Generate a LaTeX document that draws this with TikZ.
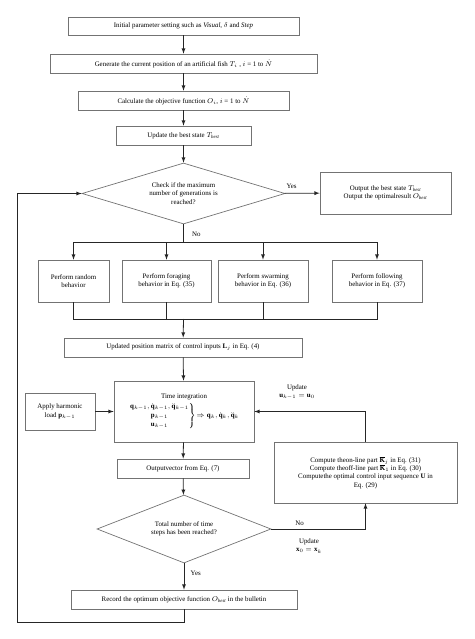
\documentclass[tikz,border=0pt]{standalone}
\usepackage{fontspec}
\usepackage{amsmath}
\setmainfont{Liberation Serif}
\usetikzlibrary{arrows, shapes.geometric}

\begin{document}
\begin{tikzpicture}[>=latex, x=1pt, y=-1pt,
  txt/.style={font=\fontsize{6.9pt}{8.2pt}\selectfont, align=center},
  box/.style={txt, draw=black!55, line width=0.7pt, inner sep=1pt},
  dia/.style={txt, diamond, draw=black!55, line width=0.7pt, inner sep=0pt},
  conn/.style={->, line width=0.8pt, draw=black!85}]

\useasboundingbox (0,0) rectangle (474,639);

% upper part: fish swarm
\node[box, minimum width=231pt, minimum height=18pt] (init) at (183.5,26) {Initial parameter setting such as \textit{Visual}, $\delta$ and \textit{Step}};
\node[box, minimum width=267pt, minimum height=19pt] (gen) at (183.5,63.5) {Generate the current position of an artificial fish $T_i$ , $i$ = 1 to $\dot{N}$};
\node[box, minimum width=211pt, minimum height=19pt] (calc) at (183.5,100.5) {Calculate the objective function $O_i$, $i$ = 1 to $\dot{N}$};
\node[box, minimum width=135pt, minimum height=19pt] (upd) at (183.5,135.5) {Update the best state $T_{\textit{best}}$};
\node[dia, minimum width=203pt, minimum height=61pt, aspect=3.3] (check) at (183.5,193.5) {Check if the maximum\\number of generations is\\reached?};
\node[box, minimum width=131pt, minimum height=42pt] (out) at (385.5,193) {Output the best state $T_{\textit{best}}$\\Output the optimalresult $O_{\textit{best}}$};

\draw[conn] (init) -- (gen);
\draw[conn] (gen) -- (calc);
\draw[conn] (calc) -- (upd);
\draw[conn] (upd) -- (check);
\draw[conn] (check) -- (out) node[txt, above, pos=0.2, yshift=1]{Yes}; %yes

% behaviors
\node[box, minimum width=71pt, minimum height=42pt] (rnd) at (73.5,281) {Perform random\\behavior};
\node[box, minimum width=89pt, minimum height=42pt] (forage) at (166.5,281) {Perform foraging\\behavior in Eq. (35)};
\node[box, minimum width=90pt, minimum height=42pt] (swarm) at (263,281) {Perform swarming\\behavior in Eq. (36)};
\node[box, minimum width=90pt, minimum height=42pt] (follow) at (377,281) {Perform following\\behavior in Eq. (37)};

\coordinate (split) at (183.5,242);
\coordinate (merge) at (183.5,319);
\draw[line width=0.8pt, draw=black!85] (check.south) -- (split) node[txt, right, midway, xshift=5, yshift=-1]{No}; %no
\draw[conn] (split) -| (rnd);
\draw[conn] (split) -| (forage);
\draw[conn] (split) -| (swarm);
\draw[conn] (split) -| (follow);
\draw[line width=0.8pt, draw=black!85] (rnd.south) |- (merge) (forage.south) |- (merge) (swarm.south) |- (merge) (follow.south) |- (merge);

\node[box, minimum width=238pt, minimum height=19pt] (mat) at (183,347.5) {Updated position matrix of control inputs $\mathbf{L}_j$ in Eq. (4)};
\draw[conn] (merge) -- (mat);

% lower part: time integration
\node[box, minimum width=140pt, minimum height=61pt] (tint) at (184,411.5) {Time integration\\[2pt]
  $\left.\renewcommand{\arraystretch}{1.1}\begin{array}{@{}c@{}}\mathbf{q}_{k-1},\dot{\mathbf{q}}_{k-1},\ddot{\mathbf{q}}_{k-1}\\ \mathbf{p}_{k-1}\\ \mathbf{u}_{k-1}\end{array}\right\}\!\Rightarrow\mathbf{q}_k,\dot{\mathbf{q}}_k,\ddot{\mathbf{q}}_k$};
\node[box, minimum width=70pt, minimum height=37pt] (load) at (60,411.5) {Apply harmonic\\load $\mathbf{p}_{k-1}$};
\node[box, minimum width=132pt, minimum height=19pt] (ovec) at (183,468.5) {Outputvector from Eq. (7)};
\node[box, minimum width=183pt, minimum height=61pt] (comp) at (365.5,472.5) {Compute theon-line part $\overline{\mathbf{K}}_j$ in Eq. (31)\\Compute theoff-line part $\overline{\mathbf{K}}_1$ in Eq. (30)\\Computethe optimal control input sequence $\mathbf{U}$ in\\Eq. (29)};
\node[dia, minimum width=174pt, minimum height=68pt, aspect=2.56] (steps) at (184,529) {Total number of time\\steps has been reached?};
\node[box, minimum width=226pt, minimum height=19pt] (rec) at (184,599.5) {Record the optimum objective function $O_{\textit{best}}$ in the bulletin};

\draw[conn] (mat) -- (tint);
\draw[conn] (load) -- (tint);
\draw[conn] (tint) -- (ovec);
\draw[conn] (ovec) -- (steps);
\draw[conn] (steps) -- (rec) node[txt, right, midway, xshift=3, yshift=3]{Yes}; %yes
\draw[conn] (steps.east) -| (comp.south) node[txt, above, pos=0.15]{No}; %no
\node[txt] (updx) at (309,546) {Update\\$\mathbf{x}_0=\mathbf{x}_k$};
\draw[conn] (comp.north) |- (tint.east);
\node[txt] (updu) at (297,392) {Update\\$\mathbf{u}_{k-1}=\mathbf{u}_0$};

% loop back
\coordinate (loopcorner) at (17,622);
\draw[conn] (rec.south) |- (loopcorner) |- (check.west);

\end{tikzpicture}
\end{document}
